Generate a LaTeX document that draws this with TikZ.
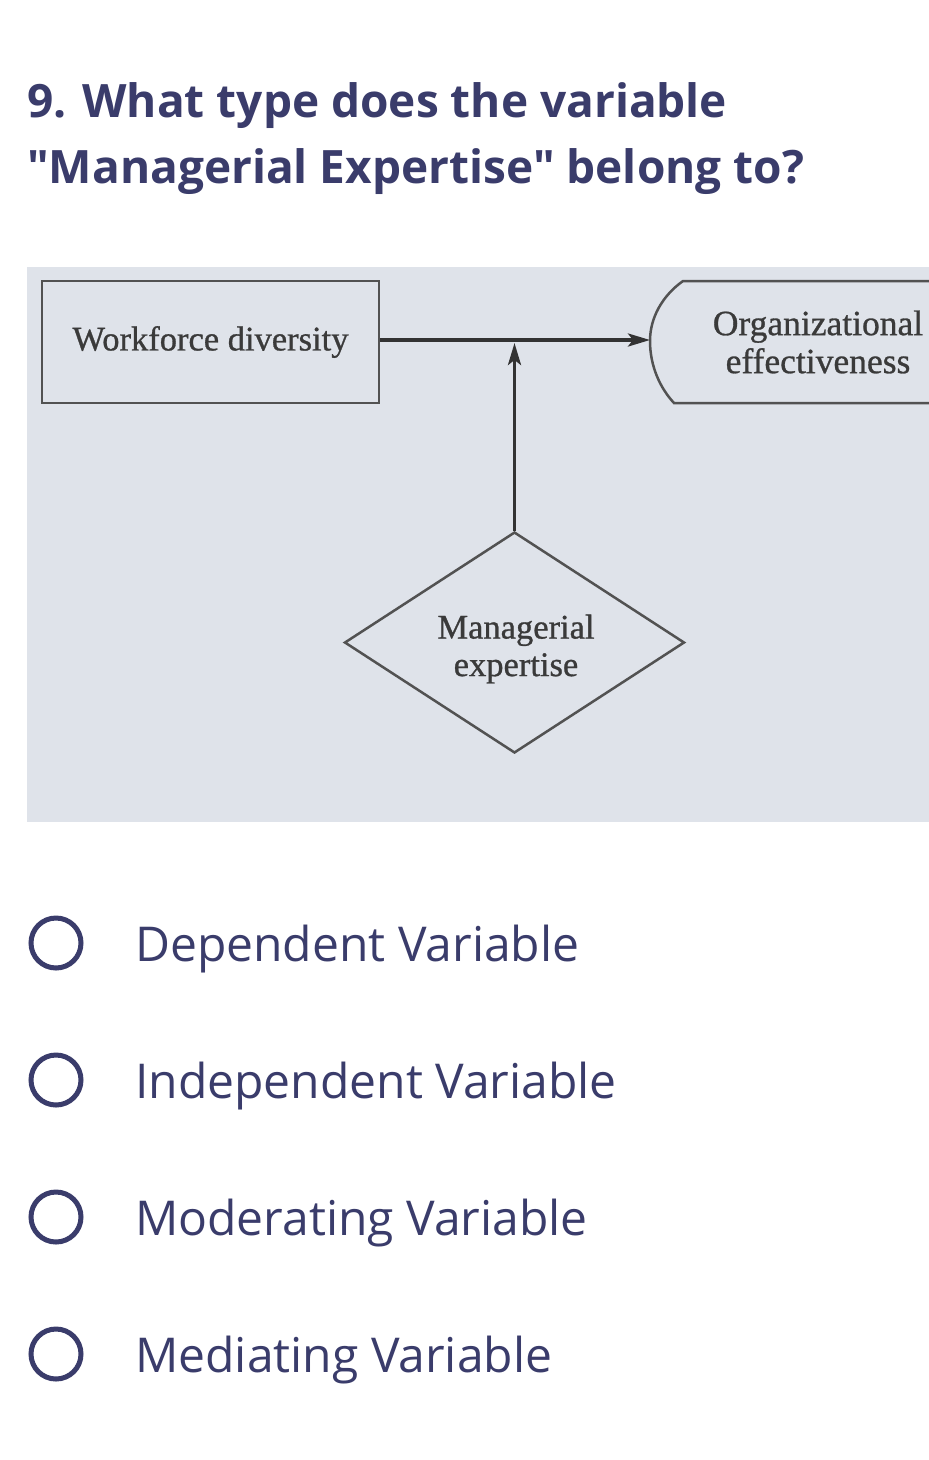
\documentclass[tikz,border=0pt]{standalone}
\usepackage{fontspec}
\setmainfont{Open Sans}
\newfontfamily\qfont{Open Sans}
\newfontfamily\diagfont[FakeBold=0.8]{Liberation Serif}
\usetikzlibrary{shapes.geometric,arrows.meta}
\definecolor{qcol}{HTML}{3A3C6B}
\definecolor{bgpanel}{HTML}{DFE3EA}
\definecolor{dline}{HTML}{333333}
\definecolor{dtext}{HTML}{3A3A3A}
\tikzset{
  qtext/.style={anchor=base west, inner sep=0pt, text=qcol, font=\qfont\fontsize{48}{58}\selectfont},
  qtitle/.style={anchor=base west, inner sep=0pt, text=qcol, font=\qfont\bfseries\fontsize{46}{56}\selectfont},
  radio/.style={circle, draw=qcol, line width=5pt, minimum size=50pt, inner sep=0pt},
  dlabel/.style={text=dtext, font=\diagfont\fontsize{34.5}{37.5}\selectfont, align=center, inner sep=0pt},
  boxnode/.style={draw=dline!85, line width=2.5pt, minimum width=337pt, minimum height=122pt, inner sep=0pt},
  conn/.style={draw=dline, line width=3.5pt, -{Stealth[length=22pt,width=13pt,inset=5pt]}}
}
\begin{document}
\begin{tikzpicture}[x=1pt,y=-1pt]
\useasboundingbox[fill=white] (0,0) rectangle (929,1460);
% title
\node[qtitle] (t1) at (27,117) {9. What type does the variable};
\node[qtitle] (t2) at (27,183) {"Managerial Expertise" belong to?};
% panel
\fill[bgpanel] (27,267) rectangle (929,822);
% workforce box
\node[boxnode, dlabel] (wf) at (210.5,342) {Workforce diversity};
% organizational effectiveness shape
\draw[dline!85, line width=2.5pt] (929,281) -- (683,281) .. controls (662,296) and (650,318) .. (650,341) .. controls (650,366) and (660,388) .. (674,403) -- (929,403);
\coordinate (orgL) at (650,340);
\node[dlabel, font=\diagfont\fontsize{35.5}{38}\selectfont] (org) at (818,342) {Organizational\\effectiveness};
% diamond
\node[diamond, draw=dline!85, line width=2.5pt, minimum width=340pt, minimum height=221pt, inner sep=0pt, aspect=1.54] (me) at (514.5,642.5) {};
\node[dlabel] (melabel) at (516,649) {Managerial\\expertise};
\coordinate (meet) at (514.5,343);
% connectors
\draw[conn] (wf.east |- orgL) -- (orgL);
\draw[conn] (me.north) -- (meet);
% options
\node[radio] (r1) at (56,943) {};
\node[qtext] (o1) at (135,961) {Dependent Variable};
\node[radio] (r2) at (56,1080) {};
\node[qtext] (o2) at (135,1098) {Independent Variable};
\node[radio] (r3) at (56,1217) {};
\node[qtext] (o3) at (135,1235) {Moderating Variable};
\node[radio] (r4) at (56,1354) {};
\node[qtext] (o4) at (135,1372) {Mediating Variable};
\end{tikzpicture}
\end{document}
